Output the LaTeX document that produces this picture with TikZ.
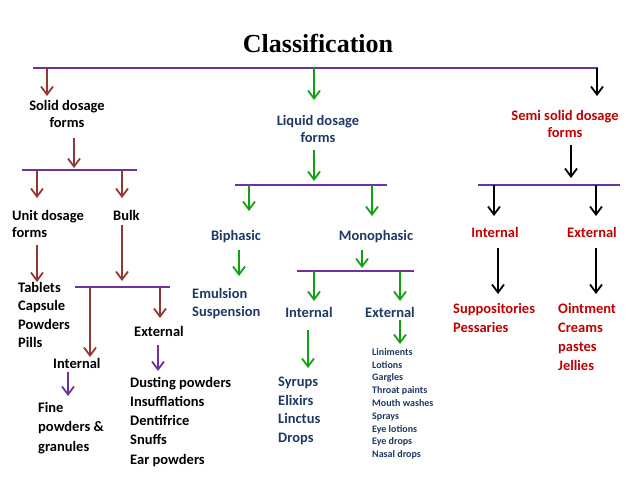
\documentclass[tikz,border=0pt]{standalone}
\usepackage{fontspec}
\setmainfont{Carlito}
\newfontfamily\tms{Liberation Serif}
\usetikzlibrary{arrows.meta}
\definecolor{bar}{HTML}{7030A0}
\definecolor{sred}{HTML}{943634}
\definecolor{lgreen}{HTML}{12A012}
\definecolor{navy}{HTML}{1F3864}
\definecolor{semired}{HTML}{C00000}
\newcount\arwn
\newcommand{\arw}[4]{\global\advance\arwn by 1
  \coordinate (s\the\arwn) at (#2,#3); \coordinate (e\the\arwn) at (#2,#4);
  \draw[arr,#1] (s\the\arwn) -- (e\the\arwn);}
\newcommand{\mybar}[4]{\coordinate (#1a) at (#2,#4); \coordinate (#1b) at (#3,#4);
  \draw[barline] (#1a) -- (#1b);}
\begin{document}
\begin{tikzpicture}[x=1pt,y=-1pt,
  arr/.style={line width=1.8pt,-{Straight Barb[length=8pt,width=12pt,line width=1.8pt]}},
  barline/.style={line width=2.8pt,bar},
  t/.style={font=\fontsize{14.5}{17}\selectfont\bfseries,inner sep=0pt,align=left},
  tc/.style={t,align=center},
  sm/.style={font=\fontsize{10}{12.8}\selectfont\bfseries,inner sep=0pt,align=left,text=navy,anchor=north west}]
\useasboundingbox (0,0) rectangle (638,479);
\node[font=\tms\fontsize{26}{30}\selectfont\bfseries] (title) at (318,43) {Classification};
% top
\mybar{top}{33}{598}{68}
\arw{sred}{47}{68}{96}
\arw{lgreen}{314}{68}{100}
\arw{black}{597}{68}{96}
% solid
\node[tc] (solid) at (67,114) {Solid dosage\\forms};
\arw{sred}{74}{138}{168}
\mybar{sb}{22}{137}{170}
\arw{sred}{37}{170}{198}
\arw{sred}{122}{170}{198}
\node[t,anchor=west] (unit) at (12,224) {Unit dosage\\forms};
\node[t,anchor=west] (bulk) at (113,215) {Bulk};
\arw{sred}{37}{245}{282}
\arw{sred}{122}{225}{281}
\mybar{bb}{75}{170}{287}
\arw{sred}{90}{287}{357}
\arw{sred}{160}{287}{318}
\node[t,anchor=north west,font=\fontsize{14.5}{18.5}\selectfont\bfseries] (tab) at (18,282) {Tablets\\Capsule\\Powders\\Pills};
\node[t,anchor=west] (sint) at (53,363) {Internal};
\arw{bar}{68}{372}{396}
\node[t,anchor=north west,font=\fontsize{14.5}{19.5}\selectfont\bfseries] (fine) at (38,402) {Fine\\powders \&\\granules};
\node[t,anchor=west] (sext) at (134,331) {External};
\arw{bar}{158}{345}{371}
\node[t,anchor=north west,font=\fontsize{14.5}{19.2}\selectfont\bfseries] (dust) at (130,377) {Dusting powders\\Insufflations\\Dentifrice\\Snuffs\\Ear powders};
% liquid
\node[tc,text=navy] (liq) at (318,129) {Liquid dosage\\forms};
\arw{lgreen}{314}{150}{181}
\mybar{lb}{235}{387}{185}
\arw{lgreen}{249}{185}{211}
\arw{lgreen}{372}{185}{216}
\node[tc,text=navy] (bip) at (236,237) {Biphasic};
\node[tc,text=navy] (mono) at (376,237) {Monophasic};
\arw{lgreen}{239}{250}{276}
\node[t,text=navy,anchor=north west,font=\fontsize{14.5}{18}\selectfont\bfseries] (emul) at (192,288) {Emulsion\\Suspension};
\arw{lgreen}{362}{250}{268}
\mybar{mb}{297}{414}{271}
\arw{lgreen}{314}{271}{301}
\arw{lgreen}{400}{271}{301}
\node[tc,text=navy] (lint) at (309,312) {Internal};
\node[tc,text=navy] (lext) at (390,312) {External};
\arw{lgreen}{308}{330}{368}
\arw{lgreen}{400}{320}{344}
\node[t,text=navy,anchor=north west,font=\fontsize{14.5}{18.5}\selectfont\bfseries] (syr) at (278,377) {Syrups\\Elixirs\\Linctus\\Drops};
\node[sm] (lini) at (372,348) {Liniments\\Lotions\\Gargles\\Throat paints\\Mouth washes\\Sprays\\Eye lotions\\Eye drops\\Nasal drops};
% semi solid
\node[tc,text=semired] (semi) at (565,124) {Semi solid dosage\\forms};
\arw{black}{571}{145}{178}
\mybar{ssb}{478}{620}{185}
\arw{black}{494}{185}{216}
\arw{black}{596}{185}{216}
\node[tc,text=semired] (sint2) at (495,232) {Internal};
\node[tc,text=semired] (sext2) at (592,232) {External};
\arw{black}{498}{248}{294}
\arw{black}{596}{248}{294}
\node[t,text=semired,anchor=north west,font=\fontsize{14.5}{19}\selectfont\bfseries] (supp) at (453,303) {Suppositories\\Pessaries};
\node[t,text=semired,anchor=north west,font=\fontsize{14.5}{19}\selectfont\bfseries] (oint) at (558,303) {Ointment\\Creams\\pastes\\Jellies};
\end{tikzpicture}
\end{document}
